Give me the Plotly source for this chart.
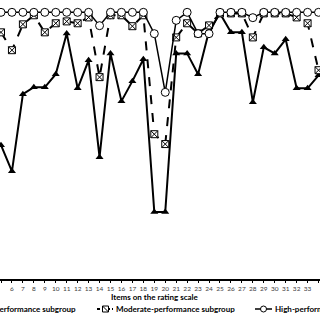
import plotly.graph_objects as go

items = list(range(5, 35))

low = [50.2, 40.4, 69.3, 71.9, 71.9, 76.8, 92.1, 71.5, 82.0, 45.7,
       84.6, 66.7, 74.2, 82.4, 25.1, 25.1, 84.6, 84.6, 76.8, 93.0,
       99.6, 92.5, 92.5, 66.3, 86.9, 84.6, 89.9, 71.5, 71.5, 76.4]
moderate = [92.5, 85.8, 95.5, 98.9, 92.5, 95.9, 96.6, 95.9, 98.1, 75.7,
            98.9, 98.9, 94.8, 98.9, 54.3, 50.6, 90.6, 95.9, 92.1, 95.1,
            99.6, 99.6, 99.6, 90.6, 99.6, 99.6, 99.6, 98.1, 95.9, 78.3]
high = [100, 100, 100, 100, 100, 100, 100, 100, 100, 95,
        100, 100, 100, 100, 92, 70, 97, 100, 92, 92,
        100, 100, 100, 98, 100, 100, 100, 100, 100, 100]

names = ["Low-performance subgroup", "Moderate-performance subgroup", "High-performance subgroup"]
x_title = "Items on the rating scale"

W, H = 320, 320
T, B = 7, 41
PH = H - T - B


def px(x):
    return x / W


def py(y):
    return (H - B - y) / PH


fig = go.Figure()
fig.add_trace(go.Scatter(
    x=items, y=low, name=names[0], mode="lines+markers",
    line=dict(color="black", width=2),
    marker=dict(symbol="triangle-up", size=7, color="black"),
    cliponaxis=False))
fig.add_trace(go.Scatter(
    x=items, y=moderate, name=names[1], mode="lines+markers",
    line=dict(color="black", width=2, dash="dash"),
    marker=dict(symbol="square-x", size=7, color="white", line=dict(color="black", width=1)),
    cliponaxis=False))
fig.add_trace(go.Scatter(
    x=items, y=high, name=names[2], mode="lines+markers",
    line=dict(color="black", width=1.5),
    marker=dict(symbol="circle", size=8, color="white", line=dict(color="black", width=1)),
    cliponaxis=False))

shapes = []
annotations = []
LY = 309
lfont = dict(family="Lato", size=8, color="black", weight="bold")

# Low entry (mostly off the left edge)
shapes.append(dict(type="line", xref="paper", yref="paper", x0=px(-48), x1=px(-30), y0=py(LY), y1=py(LY),
                   line=dict(color="black", width=2)))
shapes.append(dict(type="path", xref="paper", yref="paper", xsizemode="pixel", ysizemode="pixel",
                   xanchor=px(-39), yanchor=py(LY), path="M -3 -3 L 3 -3 L 0 3 Z",
                   fillcolor="black", line=dict(color="black", width=1)))
annotations.append(dict(text=names[0], xref="paper", yref="paper", x=px(78), y=py(LY),
                        xanchor="right", yanchor="middle", showarrow=False, font=lfont))

# Moderate entry
shapes.append(dict(type="line", xref="paper", yref="paper", x0=px(97), x1=px(113), y0=py(LY), y1=py(LY),
                   line=dict(color="black", width=2, dash="3px,2px")))
shapes.append(dict(type="rect", xref="paper", yref="paper", xsizemode="pixel", ysizemode="pixel",
                   xanchor=px(105.5), yanchor=py(LY), x0=-3, x1=3, y0=-3, y1=3,
                   fillcolor="white", line=dict(color="black", width=1)))
shapes.append(dict(type="line", xref="paper", yref="paper", xsizemode="pixel", ysizemode="pixel",
                   xanchor=px(105.5), yanchor=py(LY), x0=-3, x1=3, y0=3, y1=-3,
                   line=dict(color="black", width=1)))
annotations.append(dict(text=names[1], xref="paper", yref="paper", x=px(114), y=py(LY),
                        xanchor="left", yanchor="middle", showarrow=False, font=lfont))

# High entry
shapes.append(dict(type="line", xref="paper", yref="paper", x0=px(255), x1=px(272), y0=py(LY), y1=py(LY),
                   line=dict(color="black", width=1.5)))
shapes.append(dict(type="circle", xref="paper", yref="paper", xsizemode="pixel", ysizemode="pixel",
                   xanchor=px(263.5), yanchor=py(LY), x0=-3, x1=3, y0=-3, y1=3,
                   fillcolor="white", line=dict(color="black", width=1)))
annotations.append(dict(text=names[2], xref="paper", yref="paper", x=px(273), y=py(LY),
                        xanchor="left", yanchor="middle", showarrow=False, font=lfont))

# axis title
annotations.append(dict(text=x_title, xref="paper", yref="paper", x=px(155), y=py(296.5),
                        xanchor="center", yanchor="middle", showarrow=False,
                        font=dict(family="Lato", size=8, color="black", weight="bold")))

fig.update_layout(
    width=W, height=H,
    margin=dict(l=0, r=0, t=T, b=B, autoexpand=False),
    paper_bgcolor="white", plot_bgcolor="white",
    font=dict(family="Lato", size=8, color="black"),
    showlegend=False,
    shapes=shapes, annotations=annotations,
    xaxis=dict(range=[4.909, 34.133], tickmode="array", tickvals=items,
               ticktext=[str(i) for i in items], automargin=False,
               showline=True, linecolor="black", linewidth=1.5,
               ticks="outside", ticklen=2, tickcolor="black", tickwidth=1,
               tickfont=dict(family="Lato", size=6.5, color="#404040"),
               showgrid=False, zeroline=False),
    yaxis=dict(range=[0, 102], visible=False, showgrid=False, zeroline=False, automargin=False),
)

fig.write_html("out.html")
